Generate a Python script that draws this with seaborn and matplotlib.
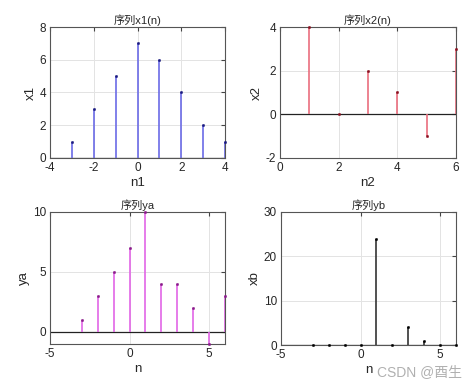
import numpy as np
import pandas as pd
import seaborn as sns
import matplotlib.pyplot as plt

n1 = [-3, -2, -1, 0, 1, 2, 3, 4]
x1 = [1, 3, 5, 7, 6, 4, 2, 1]
n2 = [1, 2, 3, 4, 5, 6]
x2 = [4, 0, 2, 1, -1, 3]
n = [-3, -2, -1, 0, 1, 2, 3, 4, 5, 6]
ya = [1, 3, 5, 7, 10, 4, 4, 2, -1, 3]
yb = [0, 0, 0, 0, 24, 0, 4, 1, 0, 0]

sns.set_style("white")
plt.rcParams['font.family'] = ['Liberation Sans', 'Noto Sans CJK SC', 'DejaVu Sans']
plt.rcParams['axes.unicode_minus'] = False


def stem_plot(ax, x, y, line_color, dot_color, title, xlabel, ylabel,
              xlim, ylim, xticks, yticks):
    df = pd.DataFrame({'x': x, 'y': y})
    ax.vlines(df['x'], 0, df['y'], color=line_color, lw=1.2, zorder=2)
    ax.axhline(0, color='#222222', lw=0.9, zorder=1)
    sns.scatterplot(data=df, x='x', y='y', ax=ax, color=dot_color, s=3,
                    edgecolor=dot_color, linewidth=0.3, zorder=3, clip_on=False)
    ax.set_xlim(xlim)
    ax.set_ylim(ylim)
    ax.set_xticks(xticks)
    ax.set_yticks(yticks)
    ax.grid(True, color='#e3e3e3', lw=0.7)
    ax.set_axisbelow(True)
    ax.tick_params(direction='in', length=3, labelsize=8.5, color='#444444',
                   top=True, right=True, pad=3)
    for s in ax.spines.values():
        s.set_color('#555555')
        s.set_linewidth(0.8)
    ax.set_title(title, fontsize=8, pad=2)
    ax.set_xlabel(xlabel, fontsize=9.5, labelpad=2)
    ax.set_ylabel(ylabel, fontsize=9.5, labelpad=2)


fig = plt.figure(figsize=(4.74, 3.84), dpi=100)
W, H = 474, 384
def add_ax(x0, y0, x1_, y1_):
    return fig.add_axes([x0 / W, 1 - y1_ / H, (x1_ - x0) / W, (y1_ - y0) / H])

ax1 = add_ax(50, 27, 225, 158)
ax2 = add_ax(280, 27, 456, 158)
ax3 = add_ax(50, 212, 225, 344)
ax4 = add_ax(281, 212, 456, 345)

stem_plot(ax1, n1, x1, '#6b6be6', '#1a1a80', '序列x1(n)', 'n1', 'x1',
          (-4, 4), (0, 8), [-4, -2, 0, 2, 4], [0, 2, 4, 6, 8])
stem_plot(ax2, n2, x2, '#ea6e7e', '#8a1020', '序列x2(n)', 'n2', 'x2',
          (0, 6), (-2, 4), [0, 2, 4, 6], [-2, 0, 2, 4])
stem_plot(ax3, n, ya, '#e266e6', '#8a1a8a', '序列ya', 'n', 'ya',
          (-5, 6), (-1, 10), [-5, 0, 5], [0, 5, 10])
stem_plot(ax4, n, yb, '#333333', '#000000', '序列yb', 'n', 'xb',
          (-5, 6), (0, 30), [-5, 0, 5], [0, 10, 20, 30])

fig.text(0.975, 0.012, 'CSDN @酉生', ha='right', va='bottom', fontsize=10,
         color='#b0b0b0')

plt.savefig('out.png', dpi=100)
plt.close()
